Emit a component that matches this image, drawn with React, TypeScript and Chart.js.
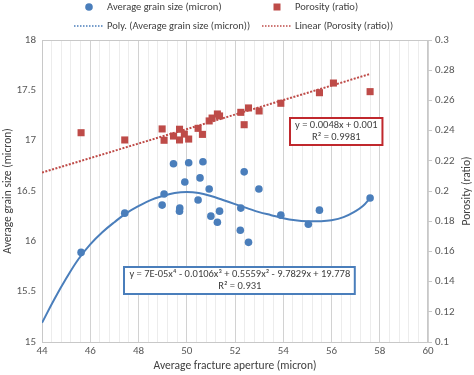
import React, { useEffect, useRef } from 'react';
import { Chart, registerables } from 'chart.js';

Chart.register(...registerables);

// ---------- data ----------
const grainX = [45.62, 47.43, 49.06, 48.98, 49.71, 49.7, 49.45, 50.08, 49.92, 50.47, 50.55, 50.67, 50.93, 51.0, 51.36, 51.27, 52.24, 52.22, 52.56, 52.38, 52.99, 53.9, 55.04, 55.5, 57.6];
const grainY = [15.89, 16.28, 16.47, 16.36, 16.33, 16.3, 16.77, 16.78, 16.59, 16.41, 16.63, 16.79, 16.52, 16.25, 16.3, 16.19, 16.33, 16.11, 15.99, 16.69, 16.52, 16.26, 16.17, 16.31, 16.43];

const porosityX = [45.62, 47.43, 48.98, 49.06, 49.45, 49.7, 49.7, 49.9, 50.08, 50.47, 50.65, 50.93, 51.05, 51.27, 51.36, 52.24, 52.38, 52.56, 53.0, 53.9, 55.5, 56.08, 57.6];
const porosityY = [0.2386, 0.2338, 0.2411, 0.2336, 0.2364, 0.2409, 0.2338, 0.2377, 0.2344, 0.2415, 0.2375, 0.2464, 0.2483, 0.251, 0.2497, 0.2521, 0.2439, 0.255, 0.253, 0.2581, 0.2651, 0.2715, 0.2658];

// trendline traces
const polyTrendX = [44, 44.5, 45, 45.5, 46, 46.5, 47, 47.5, 48, 48.5, 49, 49.5, 50, 50.5, 51, 51.5, 52, 52.5, 53, 53.5, 54, 54.5, 55, 55.5, 56, 56.5, 57, 57.3, 57.6];
const polyTrendY = [15.19, 15.42, 15.63, 15.82, 15.97, 16.09, 16.19, 16.28, 16.35, 16.41, 16.45, 16.48, 16.49, 16.48, 16.45, 16.41, 16.37, 16.33, 16.29, 16.26, 16.23, 16.21, 16.2, 16.2, 16.21, 16.24, 16.3, 16.35, 16.43];
const linearTrendX = [44, 57.6];
const linearTrendY = [0.2122, 0.2775];

const xRange = [44, 60];
const xMajorStep = 2;
const xMinorStep = 0.4;
const leftRange = [15, 18];
const leftStep = 0.5;
const rightRange = [0.1, 0.3];
const rightStep = 0.02;

const seriesNames = ['Average grain size (micron)', 'Porosity (ratio)', 'Poly. (Average grain size (micron))', 'Linear (Porosity (ratio))'];
const xTitle = 'Average fracture aperture (micron)';
const leftTitle = 'Average grain size (micron)';
const rightTitle = 'Porosity (ratio)';
const polyEquation = ['y = 7E-05x\u2074 - 0.0106x\u00B3 + 0.5559x\u00B2 - 9.7829x + 19.778', 'R\u00B2 = 0.931'];
const linearEquation = ['y = 0.0048x + 0.001', 'R\u00B2 = 0.9981'];
// label anchor (data coordinates of the box centre)
const polyLabelAt = { x: 52.2, y: 15.61 };
const linearLabelAt = { x: 56.2, y: 0.2397 };

// ---------- styles ----------
const BLUE = '#4A7EBB';
const RED = '#BE4B48';
const TEXT = '#404040';
const TICK = '#595959';
const FONT = 'Carlito, "Liberation Sans Narrow", "Open Sans", sans-serif';

const toPts = (xs: number[], ys: number[]) => xs.map((x, i) => ({ x, y: ys[i] }));

const decorPlugin = {
  id: 'decor',
  beforeDatasetsDraw(chart: any) {
    const { ctx, chartArea: a } = chart;
    ctx.save();
    ctx.strokeStyle = '#C8C8C8';
    ctx.lineWidth = 1;
    ctx.strokeRect(Math.round(a.left) + 0.5, Math.round(a.top) + 0.5, Math.round(a.right - a.left) - 1, Math.round(a.bottom - a.top));
    ctx.restore();
  },
  afterDraw(chart: any) {
    const { ctx, chartArea: a, scales } = chart;
    ctx.save();
    // legend
    ctx.font = `10.5px ${FONT}`;
    ctx.textBaseline = 'middle';
    ctx.textAlign = 'left';
    const r1 = 7, r2 = 26;
    ctx.fillStyle = BLUE;
    ctx.beginPath(); ctx.arc(89, r1, 3.8, 0, Math.PI * 2); ctx.fill();
    ctx.fillStyle = RED;
    ctx.fillRect(273.5, r1 - 3.5, 7, 7);
    ctx.fillStyle = TEXT;
    ctx.fillText(seriesNames[0], 107, r1);
    ctx.fillText(seriesNames[1], 295, r1);
    ctx.fillText(seriesNames[2], 107, r2);
    ctx.fillText(seriesNames[3], 295, r2);
    ctx.lineWidth = 1.5;
    ctx.setLineDash([1.5, 1.5]);
    ctx.strokeStyle = BLUE;
    ctx.beginPath(); ctx.moveTo(74, r2); ctx.lineTo(104, r2); ctx.stroke();
    ctx.strokeStyle = RED;
    ctx.beginPath(); ctx.moveTo(262, r2); ctx.lineTo(291, r2); ctx.stroke();
    ctx.setLineDash([]);

    // axis titles
    ctx.fillStyle = TEXT;
    ctx.font = `11.5px ${FONT}`;
    ctx.textAlign = 'center';
    ctx.fillText(xTitle, (a.left + a.right) / 2, 366);
    const midY = (a.top + a.bottom) / 2;
    ctx.save(); ctx.translate(8, midY); ctx.rotate(-Math.PI / 2); ctx.fillText(leftTitle, 0, 0); ctx.restore();
    ctx.save(); ctx.translate(467, midY); ctx.rotate(-Math.PI / 2); ctx.fillText(rightTitle, 0, 0); ctx.restore();

    // trendline labels
    const drawBox = (lines: string[], cx: number, cy: number, color: string) => {
      ctx.font = `10.5px ${FONT}`;
      const w = Math.max(...lines.map((l) => ctx.measureText(l).width)) + 10;
      const lh = 11.5;
      const h = lines.length * lh + 4;
      const x0 = Math.round(cx - w / 2), y0 = Math.round(cy - h / 2);
      ctx.fillStyle = '#FFFFFF';
      ctx.fillRect(x0, y0, w, h);
      ctx.strokeStyle = color;
      ctx.lineWidth = 2;
      ctx.strokeRect(x0, y0, w, h);
      ctx.fillStyle = TEXT;
      ctx.textAlign = 'center';
      lines.forEach((l, i) => ctx.fillText(l, cx, y0 + 2 + lh * (i + 0.5)));
    };
    drawBox(polyEquation, scales.x.getPixelForValue(polyLabelAt.x), scales.yL.getPixelForValue(polyLabelAt.y), BLUE);
    drawBox(linearEquation, scales.x.getPixelForValue(linearLabelAt.x), scales.yR.getPixelForValue(linearLabelAt.y), '#C0282D');
    ctx.restore();
  },
};

export default function App() {
  const ref = useRef<HTMLCanvasElement | null>(null);
  useEffect(() => {
    if (!ref.current) return;
    const isMajor = (v: number) => Math.abs(v / xMajorStep - Math.round(v / xMajorStep)) < 1e-6;
    const chart = new Chart(ref.current, {
      type: 'scatter',
      data: {
        datasets: [
          {
            label: seriesNames[0], data: toPts(grainX, grainY), yAxisID: 'yL',
            pointStyle: 'circle', pointRadius: 3.8, backgroundColor: BLUE, borderColor: BLUE, borderWidth: 0, order: 0,
          },
          {
            label: seriesNames[1], data: toPts(porosityX, porosityY), yAxisID: 'yR',
            pointStyle: 'rect', pointRadius: 5, backgroundColor: RED, borderColor: RED, borderWidth: 0, order: 1,
          },
          {
            type: 'line', label: seriesNames[2], data: toPts(polyTrendX, polyTrendY), yAxisID: 'yL',
            borderColor: BLUE, borderWidth: 2, pointRadius: 0, tension: 0.4, fill: false, order: 2,
          } as any,
          {
            type: 'line', label: seriesNames[3], data: toPts(linearTrendX, linearTrendY), yAxisID: 'yR',
            borderColor: RED, borderWidth: 2, borderDash: [2, 1.5], pointRadius: 0, fill: false, order: 3,
          } as any,
        ],
      },
      options: {
        responsive: false,
        animation: false,
        layout: { padding: { top: 40, left: 0, right: 0, bottom: 0 } },
        plugins: { legend: { display: false }, tooltip: { enabled: false } },
        scales: {
          x: {
            type: 'linear', min: xRange[0], max: xRange[1],
            ticks: {
              stepSize: xMinorStep, autoSkip: false, maxRotation: 0, padding: 3,
              color: TICK, font: { family: FONT, size: 11 },
              callback: (v: any) => (isMajor(Number(v)) ? String(Math.round(Number(v))) : ''),
            },
            grid: {
              drawTicks: false,
              color: (c: any) => (c.tick && isMajor(c.tick.value) ? '#D2D2D2' : '#ECECEC'),
              lineWidth: 1,
            },
            border: { display: false },
            afterFit: (s: any) => { s.height = 33; },
          },
          yL: {
            type: 'linear', position: 'left', min: leftRange[0], max: leftRange[1],
            ticks: {
              stepSize: leftStep, padding: 6, color: TICK, font: { family: FONT, size: 11 },
              callback: (v: any) => String(Number(Number(v).toFixed(1))),
            },
            grid: { drawOnChartArea: false, drawTicks: false },
            border: { display: false },
            afterFit: (s: any) => { s.width = 42; },
          },
          yR: {
            type: 'linear', position: 'right', min: rightRange[0], max: rightRange[1],
            ticks: {
              stepSize: rightStep, padding: 3, color: TICK, font: { family: FONT, size: 11 },
              callback: (v: any) => String(Number(Number(v).toFixed(2))),
            },
            grid: { drawOnChartArea: false, drawTicks: true, tickLength: 4, color: '#C8C8C8' },
            border: { display: false },
            afterFit: (s: any) => { s.width = 46; },
          },
        },
      },
      plugins: [decorPlugin],
    } as any);
    return () => chart.destroy();
  }, []);
  return (
    <div style={{ position: 'absolute', left: 0, top: 0, width: 474, height: 375, background: '#fff' }}>
      <canvas ref={ref} width={474} height={375} style={{ display: 'block' }} />
    </div>
  );
}
